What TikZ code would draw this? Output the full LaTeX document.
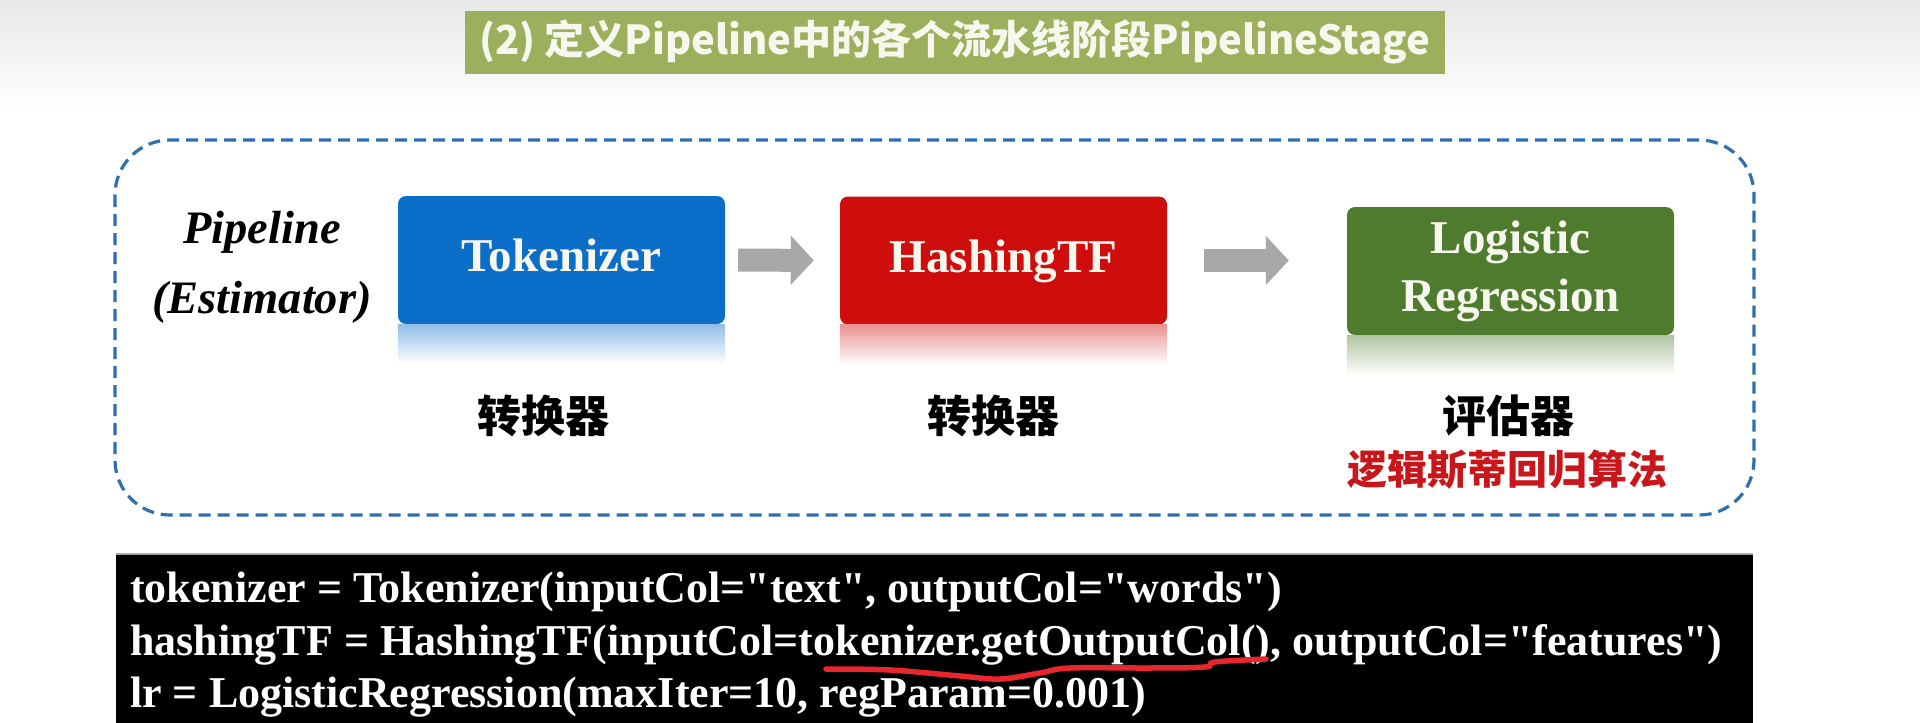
\documentclass[tikz,border=0pt]{standalone}
\usepackage{fontspec}
\setmainfont{Liberation Serif}
\newfontfamily\codefont{Liberation Serif}[Ligatures=TeXOff]
\newfontfamily\cjk{Noto Sans CJK SC}
\usetikzlibrary{arrows.meta}
\definecolor{bannergreen}{HTML}{9CAF5C}
\definecolor{tokblue}{HTML}{0B6EC8}
\definecolor{hashred}{HTML}{CF0D0D}
\definecolor{lrgreen}{HTML}{4F7B2F}
\definecolor{dashblue}{HTML}{2E6FAE}
\definecolor{arrowgray}{HTML}{A8A8A8}
\definecolor{inkred}{HTML}{E8262C}
\definecolor{labelred}{HTML}{C8161B}
\definecolor{boxtext}{HTML}{F7F7EE}

\begin{document}
\begin{tikzpicture}[x=1pt,y=-1pt,
  stagebox/.style={rounded corners=8pt,minimum width=327pt,minimum height=128pt,inner sep=0pt,
    text depth=9pt,text=boxtext,align=center,font=\fontsize{47}{58}\selectfont\bfseries},
  flow/.style={arrowgray,line width=23pt,-{Triangle[length=23pt,width=48pt]}},
  kind/.style={font=\cjk\fontsize{44}{50}\selectfont\bfseries},
  codeline/.style={anchor=base west,text=white,inner sep=0pt,font=\codefont\fontsize{44}{52}\selectfont\bfseries}]
  \useasboundingbox (0,0) rectangle (1920,723);
  \shade[top color=black!9,bottom color=white] (0,0) rectangle (1920,110);
  \node[fill=bannergreen,minimum width=980pt,minimum height=63pt,inner sep=0pt,text=boxtext,
    font=\cjk\fontsize{40}{40}\selectfont\bfseries] (title) at (955,42) {(2) 定义Pipeline中的各个流水线阶段PipelineStage};
  \draw[dashblue,line width=3.2pt,dash pattern=on 12pt off 7pt,rounded corners=55pt] (115,140) rectangle (1754,515);
  \node[align=center,font=\fontsize{46.5}{70}\selectfont\bfseries\itshape] (pipe) at (262,267) {Pipeline\\(Estimator)};
  \node[stagebox,fill=tokblue] (tok) at (561.5,260) {Tokenizer};
  \node[stagebox,fill=hashred] (hash) at (1003.5,260.5) {HashingTF};
  \node[stagebox,fill=lrgreen] (lr) at (1510.5,271) {Logistic\\Regression};
  % reflections under the stages
  \foreach \b/\c in {tok/tokblue,hash/hashred,lr/lrgreen}
    \shade[top color=\c!45,bottom color=white] (\b.south west) rectangle ([yshift=-40pt]\b.south east);
  \draw[flow,shorten <=13pt,shorten >=26pt] (tok.east) -- (hash.west);
  \draw[flow,shorten <=37pt,shorten >=58pt] (hash.east) -- (hash.east -| lr.west);
  \node[kind] (tokkind) at (543,416) {转换器};
  \node[kind] (hashkind) at (993,416) {转换器};
  \node[kind] (lrkind) at (1508,416) {评估器};
  \node[kind,text=labelred,font=\cjk\fontsize{40}{48}\selectfont\bfseries] (lralgo) at (1507,470) {逻辑斯蒂回归算法};
  % code
  \fill (116,554) rectangle (1753,723);
  \draw[black!35,line width=1.5pt] (116,554) -- (1753,554);
  \node[codeline] (code1) at (130,602) {tokenizer = Tokenizer(inputCol="text", outputCol="words")};
  \node[codeline] (code2) at (130,655) {hashingTF = HashingTF(inputCol=tokenizer.getOutputCol(), outputCol="features")};
  \node[codeline] (code3) at (130,707) {lr = LogisticRegression(maxIter=10, regParam=0.001)};
  \draw[inkred,line width=5.5pt,line cap=round] plot[smooth,tension=0.6] coordinates
    {(826,669) (890,670) (960,676) (1000,679) (1040,673) (1070,668) (1150,668) (1205,667) (1215,662) (1266,659)};
\end{tikzpicture}
\end{document}
